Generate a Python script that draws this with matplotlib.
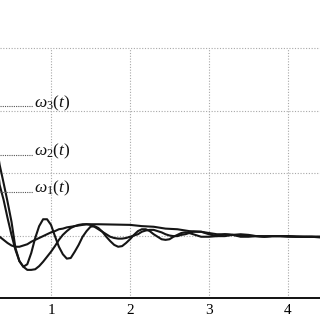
import matplotlib
matplotlib.use("Agg")
import matplotlib.pyplot as plt

plt.rcParams['mathtext.fontset'] = 'custom'
plt.rcParams['mathtext.rm'] = 'Liberation Serif'
plt.rcParams['mathtext.it'] = 'Liberation Serif:italic'
plt.rcParams['font.family'] = ['Liberation Serif', 'DejaVu Serif']

# time samples (s) and responses
t_fast = [0.30, 0.35, 0.40, 0.45, 0.50, 0.55, 0.60, 0.65, 0.70, 0.75, 0.80, 0.85, 0.90, 0.95,
          1.00, 1.05, 1.10, 1.15, 1.20, 1.25, 1.30, 1.35, 1.40, 1.45, 1.50, 1.55, 1.60, 1.65,
          1.70, 1.75, 1.80, 1.85, 1.90, 1.95, 2.00, 2.05, 2.10, 2.15, 2.20, 2.25, 2.30, 2.35,
          2.40, 2.45, 2.50, 2.55, 2.60, 2.65, 2.70, 2.75, 2.80, 2.90, 3.00, 3.10, 3.20, 3.30,
          3.40, 3.50, 3.60, 3.70, 3.80, 3.90, 4.00, 4.10, 4.20, 4.30, 4.40]
w_fast = [2.53, 2.13, 1.84, 1.54, 1.22, 0.80, 0.59, 0.50, 0.54, 0.72, 0.96, 1.15, 1.26, 1.26,
          1.17, 0.99, 0.82, 0.70, 0.63, 0.64, 0.74, 0.85, 0.98, 1.07, 1.14, 1.15, 1.12, 1.06,
          0.98, 0.91, 0.85, 0.82, 0.83, 0.88, 0.94, 1.01, 1.07, 1.10, 1.10, 1.07, 1.02, 0.98,
          0.94, 0.93, 0.94, 0.98, 1.01, 1.04, 1.05, 1.04, 1.02, 0.98, 0.98, 0.99, 1.02, 1.01,
          0.98, 0.98, 0.99, 0.98, 0.99, 0.99, 0.98, 0.98, 0.98, 0.98, 0.97]

t_mid = t_fast
w_mid = [2.37, 1.81, 1.57, 1.28, 1.01, 0.77, 0.59, 0.50, 0.45, 0.45, 0.46, 0.51, 0.58, 0.66,
         0.74, 0.83, 0.93, 1.01, 1.07, 1.12, 1.15, 1.17, 1.18, 1.18, 1.17, 1.14, 1.10, 1.06,
         1.02, 0.98, 0.96, 0.95, 0.95, 0.96, 0.98, 1.00, 1.02, 1.06, 1.08, 1.09, 1.09, 1.07,
         1.05, 1.02, 1.00, 0.99, 0.99, 1.01, 1.02, 1.04, 1.06, 1.06, 1.02, 0.99, 0.99, 1.01,
         1.02, 1.01, 0.99, 0.98, 0.99, 0.99, 0.99, 0.98, 0.98, 0.98, 0.98]

t_slow = [0.30, 0.35, 0.40, 0.45, 0.50, 0.55, 0.60, 0.65, 0.70, 0.75, 0.80, 0.85, 0.90, 0.95,
          1.00, 1.05, 1.10, 1.15, 1.20, 1.25, 1.30, 1.35, 1.40, 1.45, 1.50, 1.55, 1.60, 2.00,
          2.15, 2.30, 2.45, 2.60, 2.75, 2.90, 3.00, 3.10, 3.20, 3.30, 3.40, 3.60, 3.80, 4.00,
          4.20, 4.40]
w_slow = [1.02, 0.98, 0.93, 0.88, 0.84, 0.82, 0.82, 0.84, 0.86, 0.90, 0.93, 0.96, 0.99, 1.02,
          1.05, 1.07, 1.10, 1.11, 1.13, 1.14, 1.15, 1.16, 1.17, 1.18, 1.18, 1.18, 1.18, 1.17,
          1.15, 1.14, 1.11, 1.10, 1.07, 1.06, 1.04, 1.02, 1.02, 1.01, 1.00, 0.99, 0.99, 0.99,
          0.98, 0.98]

x_ticks = [1, 2, 3, 4]
x_tick_labels = ['1', '2', '3', '4']
y_grid = [1, 2, 3, 4]
labels = [r'$\omega_3(t)$', r'$\omega_2(t)$', r'$\omega_1(t)$']
label_y = [3.07, 2.29, 1.70]

fig = plt.figure(figsize=(3.2, 3.2), dpi=100)
ax = fig.add_axes([0.0, 22/320, 1.0, 250/320])
ax.set_xlim(28/79, 348/79)
ax.set_ylim(0, 4.0)

for t, w in [(t_slow, w_slow), (t_mid, w_mid), (t_fast, w_fast)]:
    ax.plot(t, w, color='#151515', lw=1.5, solid_joinstyle='round')

ax.set_xticks(x_ticks)
ax.set_xticklabels(x_tick_labels, fontsize=11)
ax.set_yticks(y_grid)
ax.tick_params(axis='both', length=0, pad=4)
ax.tick_params(axis='y', labelleft=False)
ax.grid(True, linestyle=(0, (1, 1.5)), color='#a8a8a8', lw=0.8)
for g in ax.get_ygridlines():
    g.set_clip_on(False)

for s in ['top', 'left', 'right']:
    ax.spines[s].set_visible(False)
ax.spines['bottom'].set_linewidth(1.4)
ax.spines['bottom'].set_color('#111111')

for lab, y in zip(labels, label_y):
    ax.plot([28/79, 0.77], [y, y], color='#555555', lw=0.8, linestyle=(0, (1, 1)))
    ax.text(0.78, y + 0.05, lab, fontsize=12.5, va='center', ha='left', color='#111111')

fig.savefig('out.png', dpi=100)
